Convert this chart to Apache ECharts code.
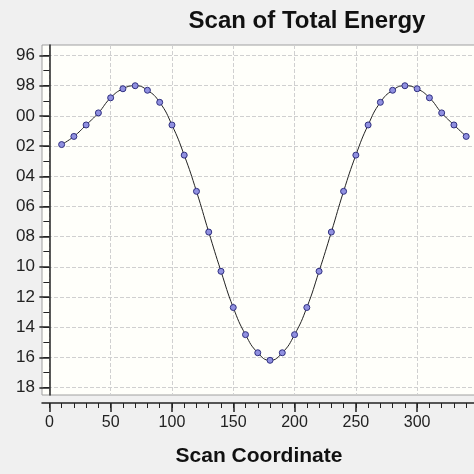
<!DOCTYPE html><html><head><meta charset="utf-8"><script src="https://cdn.jsdelivr.net/npm/echarts@6/dist/echarts.min.js"></script></head><body style="margin:0;background:#f0f0f0"><div id="c" style="width:474px;height:474px"></div><script>
const scanX=[10,20,30,40,50,60,70,80,90,100,110,120,130,140,150,160,170,180,190,200,210,220,230,240,250,260,270,280,290,300,310,320,330,340];
const energy=[-1.019,-1.0136,-1.006,-0.998,-0.988,-0.982,-0.980,-0.983,-0.991,-1.006,-1.026,-1.050,-1.077,-1.103,-1.127,-1.145,-1.157,-1.162,-1.157,-1.145,-1.127,-1.103,-1.077,-1.050,-1.026,-1.006,-0.991,-0.983,-0.980,-0.982,-0.988,-0.998,-1.006,-1.0136];
const xMajor=[0,50,100,150,200,250,300,350];
const xMinor=[];for(let v=0;v<=350;v+=10)xMinor.push(v);
const yMajor=[-0.96,-0.98,-1.00,-1.02,-1.04,-1.06,-1.08,-1.10,-1.12,-1.14,-1.16,-1.18];
const yMinor=[];for(let i=0;i<=22;i++)yMinor.push(+(-0.96-i*0.01).toFixed(3));
const ch=echarts.init(document.getElementById('c'));
const lab=v=>{const n=Math.round(Math.abs(v)*100)%100;return (n<10?'0':'')+n;};
ch.setOption({backgroundColor:'#f0f0f0',
title:{text:'Scan of Total Energy',left:302,top:4,textAlign:'center',textStyle:{fontFamily:'Liberation Sans',fontWeight:'bold',fontSize:24,color:'#111'}},
grid:{left:42,right:-2,top:45,bottom:79,outerBoundsMode:'none',containLabel:false,show:true,backgroundColor:'#fffffa',borderColor:'#a0a0a0',borderWidth:1},
xAxis:[{type:'value',min:-6,max:348,offset:8,name:'Scan Coordinate',nameLocation:'middle',nameGap:43,nameTextStyle:{fontFamily:'Liberation Sans',fontWeight:'bold',fontSize:21,color:'#111'},
axisLine:{lineStyle:{color:'#222',width:1.5}},axisTick:{customValues:xMajor,length:9,lineStyle:{color:'#222',width:1.5}},
axisLabel:{customValues:xMajor,fontFamily:'Liberation Sans',fontSize:16,color:'#222',margin:12},
splitLine:{show:true,lineStyle:{type:'dashed',color:'#d0d0d0'}}},
{type:'value',min:-6,max:348,position:'bottom',offset:8,axisLine:{show:false},axisTick:{customValues:xMinor,length:5,lineStyle:{color:'#222'}},axisLabel:{show:false},splitLine:{show:false}}],
yAxis:[{type:'value',min:-1.185,max:-0.953,offset:5,axisLine:{show:true,lineStyle:{color:'#222',width:1.5}},
axisTick:{show:true,customValues:yMajor,length:10,lineStyle:{color:'#222',width:1.5}},
axisLabel:{customValues:yMajor,formatter:lab,fontFamily:'Liberation Sans',fontSize:17,color:'#222',margin:2},
splitLine:{show:true,lineStyle:{type:'dashed',color:'#d0d0d0'}}},
{type:'value',min:-1.185,max:-0.953,position:'left',offset:5,axisLine:{show:false},axisTick:{show:true,customValues:yMinor,length:6,lineStyle:{color:'#222'}},axisLabel:{show:false},splitLine:{show:false}}],
series:[{type:'line',smooth:true,data:scanX.map((x,i)=>[x,energy[i]]),symbol:'circle',symbolSize:6,lineStyle:{color:'#222',width:1},itemStyle:{color:'#9090e0',borderColor:'#303080',borderWidth:1}}]
});
</script></body></html>
